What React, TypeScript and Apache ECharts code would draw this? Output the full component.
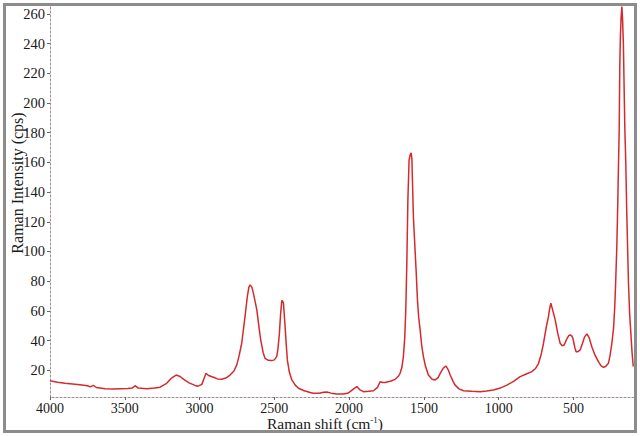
import React, { useEffect, useRef } from "react";
import * as echarts from "echarts";

const wavenumbers = [
  4000, 3950, 3900, 3866, 3800, 3750, 3730, 3710, 3690, 3632, 3580, 3530, 3480, 3450, 3431, 3410,
  3353, 3300, 3264, 3220, 3190, 3157, 3130, 3108, 3070, 3030, 3010, 2985, 2970, 2957, 2940, 2907,
  2880, 2852, 2820, 2796, 2770, 2751, 2735, 2718, 2696, 2680, 2670, 2662, 2650, 2640, 2628, 2617,
  2600, 2591, 2575, 2562, 2540, 2517, 2500, 2484, 2475, 2466, 2458, 2450, 2444, 2439, 2428, 2420,
  2413, 2400, 2383, 2360, 2339, 2300, 2260, 2239, 2200, 2170, 2149, 2120, 2082, 2040, 2010, 1993,
  1970, 1948, 1930, 1904, 1870, 1837, 1810, 1793, 1775, 1759, 1720, 1692, 1670, 1659, 1647, 1637,
  1628, 1621, 1614, 1607, 1599, 1592, 1585, 1580, 1577, 1570, 1559, 1552, 1543, 1535, 1525, 1515,
  1503, 1490, 1470, 1445, 1425, 1405, 1390, 1370, 1353, 1338, 1324, 1305, 1291, 1265, 1235, 1180,
  1124, 1080, 1035, 990, 945, 900, 856, 815, 778, 755, 733, 715, 700, 680, 667, 660,
  651, 640, 622, 605, 589, 575, 562, 545, 530, 522, 510, 504, 490, 482, 470, 455,
  440, 425, 410, 395, 377, 355, 333, 315, 299, 285, 266, 255, 243, 232, 224, 218,
  210, 203, 199, 194, 190, 186, 181, 176, 171, 166, 161, 156, 150, 143, 132, 124,
  116, 108, 100,
];

const intensities = [
  13.0, 12.0, 11.3, 11.0, 10.3, 9.6, 8.8, 9.8, 8.4, 7.5, 7.4, 7.6, 7.8, 8.0, 9.6, 8.0,
  7.6, 8.0, 8.6, 11.2, 14.5, 16.8, 15.8, 14.0, 11.5, 9.8, 9.3, 10.5, 14.5, 18.0, 16.5, 15.3,
  14.2, 14.0, 15.0, 16.8, 19.5, 23.6, 30.0, 38.2, 56.1, 70.0, 76.0, 77.5, 76.0, 72.0, 66.0, 60.7,
  47.0, 40.4, 32.0, 28.0, 26.7, 26.5, 27.0, 29.2, 35.0, 45.0, 58.0, 66.9, 66.5, 65.2, 49.4, 37.0,
  27.0, 19.0, 13.5, 10.0, 7.9, 6.2, 5.0, 4.5, 4.5, 5.2, 5.4, 4.6, 4.0, 4.0, 4.5, 5.6,
  7.5, 9.0, 7.0, 5.6, 5.8, 6.2, 8.5, 12.3, 11.8, 11.7, 12.8, 13.9, 16.0, 18.0, 22.0, 29.2,
  42.0, 60.7, 92.0, 134.6, 161.5, 165.0, 166.5, 162.0, 150.0, 123.0, 101.0, 87.4, 67.4, 56.0, 47.2, 37.0,
  29.2, 23.0, 16.8, 14.0, 13.5, 15.0, 18.0, 21.5, 22.9, 20.5, 16.8, 12.5, 10.0, 7.5, 6.2, 5.8,
  5.6, 6.0, 6.7, 8.0, 10.0, 12.5, 15.7, 17.5, 19.1, 21.0, 24.7, 31.0, 38.2, 50.0, 56.1, 61.0,
  65.2, 61.0, 53.9, 45.0, 38.2, 36.5, 37.0, 41.0, 43.5, 43.8, 43.0, 41.6, 35.0, 32.5, 32.5, 33.7,
  38.0, 42.5, 44.5, 42.0, 35.9, 30.0, 25.8, 23.0, 22.0, 22.5, 24.7, 30.0, 38.2, 48.0, 62.0, 78.0,
  103.0, 135.0, 157.0, 182.0, 225.0, 245.0, 258.0, 265.0, 255.0, 240.0, 210.0, 182.0, 160.0, 124.0, 79.0, 58.0,
  45.0, 32.0, 22.5,
];

const xTicks = [4000, 3500, 3000, 2500, 2000, 1500, 1000, 500];
const yTicks = [20, 40, 60, 80, 100, 120, 140, 160, 180, 200, 220, 240, 260];

const FONT = "'Liberation Serif', 'Times New Roman', serif";

export default function App() {
  const ref = useRef<HTMLDivElement>(null);
  useEffect(() => {
    document.body.style.margin = "0";
    const chart = echarts.init(ref.current!, null, { renderer: "svg" });
    const data = wavenumbers.map((w, i) => [w, intensities[i]]);
    chart.setOption({
      animation: false,
      backgroundColor: "#ffffff",
      textStyle: { fontFamily: FONT },
      grid: { left: 50, top: 5, right: 6, bottom: 39 },
      xAxis: {
        type: "value",
        inverse: true,
        min: 95,
        max: 4000,
        axisLine: { show: true, onZero: false, lineStyle: { color: "#9e8a8a", type: [2, 2], width: 1 } },
        axisTick: { show: true, customValues: xTicks, length: 3, lineStyle: { color: "#666" } },
        axisLabel: {
          customValues: xTicks,
          formatter: (v: number) => String(v),
          color: "#1a1a1a",
          fontFamily: FONT,
          fontSize: 14,
          margin: 4,
        },
        splitLine: { show: false },
      },
      yAxis: {
        type: "value",
        min: 2,
        max: 266,
        axisLine: { show: true, onZero: false, lineStyle: { color: "#9e8a8a", type: [2, 2], width: 1 } },
        axisTick: { show: true, customValues: yTicks, length: 3, lineStyle: { color: "#666" } },
        axisLabel: {
          customValues: yTicks,
          formatter: (v: number) => String(v),
          color: "#1a1a1a",
          fontFamily: FONT,
          fontSize: 14.5,
          margin: 5,
        },
        splitLine: { show: false },
      },
      series: [
        {
          type: "line",
          data,
          symbol: "none",
          smooth: false,
          lineStyle: { color: "#d42a2e", width: 1.5 },
        },
      ],
      graphic: [
        {
          type: "rect",
          shape: { x: 4.5, y: 4.5, width: 631, height: 427 },
          style: { fill: "none", stroke: "#8c8c8c", lineWidth: 3 },
          silent: true,
          z: 100,
        },
        {
          type: "text",
          x: 17,
          y: 183,
          rotation: Math.PI / 2,
          style: {
            text: "Raman Intensity (cps)",
            font: "16px 'Liberation Serif', serif",
            fill: "#1a1a1a",
            align: "center",
            verticalAlign: "middle",
          },
        },
        {
          type: "text",
          x: 325,
          y: 423,
          style: {
            text: "{a|Raman shift (cm}{s|-1}{a|)}",
            align: "center",
            verticalAlign: "middle",
            rich: {
              a: { fontSize: 15.5, fontFamily: FONT, fill: "#1a1a1a", color: "#1a1a1a" },
              s: { fontSize: 9, fontFamily: FONT, fill: "#1a1a1a", color: "#1a1a1a", verticalAlign: "top" },
            },
          },
        },
      ],
    });
    return () => chart.dispose();
  }, []);
  return <div ref={ref} style={{ width: 640, height: 436 }} />;
}
